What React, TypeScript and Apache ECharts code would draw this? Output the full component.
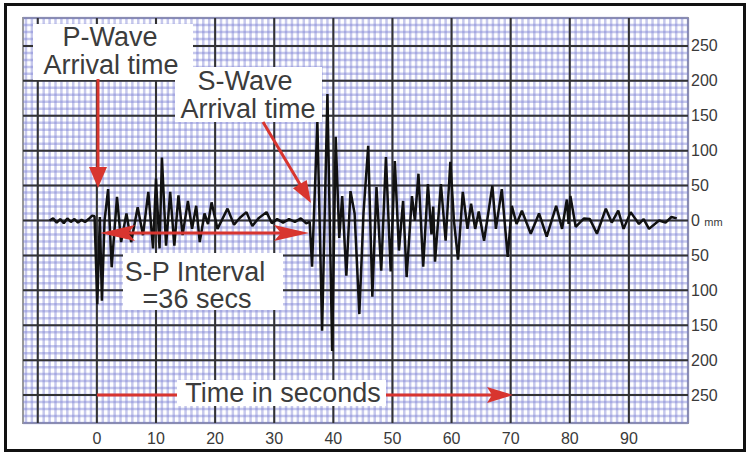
import React, { useEffect, useRef } from "react";
import * as echarts from "echarts";

// Seismogram trace: time in seconds and amplitude in mm
const TIME = [
  -8.0, -7.4, -6.8, -6.2, -5.6, -5.0, -4.4, -3.8, -3.2, -2.6, -2.0, -1.4, -0.8, -0.4,
  0.07, 0.5, 0.85, 1.3, 1.9, 2.5, 3.4, 4.1, 5.0, 5.8, 6.9, 7.8, 8.7, 9.5, 10.0, 10.6,
  11.0, 11.7, 12.4, 13.1, 13.8, 14.5, 15.4, 16.1, 16.8, 17.4, 18.2, 18.8, 19.4, 20.4,
  22.1, 23.2, 24.2, 25.3, 26.3, 27.3, 28.7, 29.6, 30.5, 31.5, 32.5, 33.5, 34.5, 35.4, 36.0,
  36.4, 37.3, 38.1, 39.0, 39.8, 40.4, 41.0, 41.5, 42.2, 42.9, 43.6, 44.4, 45.1, 45.9,
  46.6, 47.3, 48.1, 48.9, 49.7, 50.4, 51.1, 51.8, 52.4, 53.3, 53.8, 54.4, 55.2, 56.0,
  56.6, 56.9, 57.2, 58.2, 59.0, 59.8, 60.4, 61.1, 61.9, 62.7, 63.3, 64.0, 64.6, 65.5,
  66.2, 66.9, 67.5, 68.5, 69.5, 70.2, 71.0, 71.9, 73.4, 74.8, 76.1, 77.7, 78.7, 79.5,
  79.8, 80.1, 81.0, 82.4, 83.4, 84.6, 86.1, 87.1, 88.2, 89.1, 90.3, 91.7, 92.5, 93.4,
  95.1, 96.2, 97.2, 98.1,
];
const AMP = [
  0, 3, -3, 2, -4, 3, -2, 2, -3, 1, -2, 2, 7, 6,
  -120, 5, -115, 0, 45, -67, 34, -31, 10, -31, 19, -21, 41, -40, 60, -40,
  90, -36, 41, -36, 36, -21, 28, -12, 21, -31, 10, -5, 26, -12,
  17, -6, 4, 12, -8, 3, 12, -4, 2, -3, 2, -2, 3, -4, -2,
  -66, 141, -158, 181, -187, 120, -25, 35, -79, 42, 10, -134, 10, 107,
  -109, 48, -72, 91, -73, 85, -43, 28, -81, 35, 0, 67, -66, 52,
  -20, 20, -59, 52, -29, 84, 0, -56, 41, -12, 24, -12, 13, -29,
  10, 50, -12, 45, -52, 21, -5, 14, -19, 10, -23, 21, -12, 30,
  -5, 35, -9, 3, 2, -19, 17, -3, 14, -12, 12, -5, 2, -12,
  0, -3, 5, 3,
];

const X_LABELS = [0, 10, 20, 30, 40, 50, 60, 70, 80, 90];
const Y_LABELS = [-250, -200, -150, -100, -50, 0, 50, 100, 150, 200, 250];
const X_MAJOR = [-10, 0, 10, 20, 30, 40, 50, 60, 70, 80, 90];
const Y_MAJOR = [-250, -200, -150, -100, -50, 0, 50, 100, 150, 200, 250];

const X_MIN = -12.5;
const X_MAX = 100;
const Y_MIN = -290;
const Y_MAX = 290;

const RED = "#d8352f";
const FONT = "'Liberation Sans', Arial, sans-serif";
const MINOR = "rgba(118,124,210,0.42)";

function range(a: number, b: number, step: number) {
  const out: number[] = [];
  for (let v = a; v <= b + 1e-9; v += step) out.push(v);
  return out;
}

export default function App() {
  const ref = useRef<HTMLDivElement>(null);

  useEffect(() => {
    if (!ref.current) return;
    const chart = echarts.init(ref.current, null, { renderer: "svg" });
    const xMinor = range(-12, 100, 1);
    const yMinor = range(-290, 290, 10);

    const textStyle = (text: string, x: number, y: number) => ({
      type: "text",
      x,
      y,
      z: 20,
      style: {
        text,
        fill: "#3c3c3c",
        font: `27px ${FONT}`,
        textAlign: "center",
        textVerticalAlign: "middle",
      },
    });
    const box = (x: number, y: number, w: number, h: number) => ({
      type: "rect",
      z: 15,
      shape: { x, y, width: w, height: h },
      style: { fill: "#ffffff" },
    });
    const redLine = (x1: number, y1: number, x2: number, y2: number) => ({
      type: "line",
      z: 18,
      shape: { x1, y1, x2, y2 },
      style: { stroke: RED, lineWidth: 3 },
    });
    const head = (pts: number[][]) => ({
      type: "polygon",
      z: 18,
      shape: { points: pts },
      style: { fill: RED },
    });

    chart.setOption({
      animation: false,
      backgroundColor: "#ffffff",
      grid: {
        left: 23,
        top: 18,
        right: 61,
        bottom: 33,
        show: true,
        backgroundColor: "#ffffff",
        borderColor: "#9a9a9a",
        borderWidth: 2,
      },
      xAxis: {
        type: "value",
        min: X_MIN,
        max: X_MAX,
        splitLine: { show: false },
        axisLine: { show: false },
        axisTick: { show: false },
        axisLabel: {
          customValues: X_LABELS,
          color: "#3a3a3a",
          fontSize: 16,
          fontFamily: FONT,
          margin: 7,
        },
      },
      yAxis: {
        type: "value",
        position: "right",
        min: Y_MIN,
        max: Y_MAX,
        splitLine: { show: false },
        axisLine: { show: false },
        axisTick: { show: false },
        axisLabel: {
          customValues: Y_LABELS,
          color: "#3a3a3a",
          fontSize: 16,
          fontFamily: FONT,
          margin: 3,
          formatter: (v: number) => (v === 0 ? "{a|0} {b|mm}" : String(Math.abs(v))),
          rich: {
            a: { fontSize: 16, fontFamily: FONT, color: "#3a3a3a" },
            b: { fontSize: 11, fontFamily: FONT, color: "#3a3a3a", padding: [3, 0, 0, 0] },
          },
        },
      },
      series: [
        {
          type: "custom",
          silent: true,
          z: 1,
          data: [[0, 0]],
          renderItem: (params: any, api: any) => {
            const tl = api.coord([X_MIN, Y_MAX]);
            const br = api.coord([X_MAX, Y_MIN]);
            const children: any[] = [];
            xMinor.forEach((v) => {
              const p = api.coord([v, 0]);
              children.push({
                type: "line",
                shape: { x1: p[0], y1: tl[1], x2: p[0], y2: br[1] },
                style: { stroke: MINOR, lineWidth: 2.5 },
              });
            });
            yMinor.forEach((v) => {
              const p = api.coord([0, v]);
              children.push({
                type: "line",
                shape: { x1: tl[0], y1: p[1], x2: br[0], y2: p[1] },
                style: { stroke: MINOR, lineWidth: 2.5 },
              });
            });
            X_MAJOR.forEach((v) => {
              const p = api.coord([v, 0]);
              children.push({
                type: "line",
                shape: { x1: p[0], y1: tl[1], x2: p[0], y2: br[1] },
                style: { stroke: "#333333", lineWidth: 2 },
              });
            });
            Y_MAJOR.forEach((v) => {
              const p = api.coord([0, v]);
              children.push({
                type: "line",
                shape: { x1: tl[0], y1: p[1], x2: br[0], y2: p[1] },
                style: { stroke: "#333333", lineWidth: 2 },
              });
            });
            return { type: "group", children };
          },
        },
        {
          type: "line",
          z: 5,
          data: TIME.map((t, i) => [t, AMP[i]]),
          showSymbol: false,
          silent: true,
          lineStyle: { color: "#111111", width: 2.5 },
        },
      ],
      graphic: [
        {
          type: "rect",
          z: 30,
          shape: { x: 5.5, y: 4.5, width: 739, height: 446 },
          style: { fill: "none", stroke: "#111111", lineWidth: 3 },
        },
        box(33, 24, 160, 56),
        textStyle("P-Wave", 110, 37),
        textStyle("Arrival time", 111, 65),
        box(175, 67, 147, 55),
        textStyle("S-Wave", 245, 81),
        textStyle("Arrival time", 248, 109),
        box(123, 253, 160, 57),
        textStyle("S-P Interval", 195, 272),
        textStyle("=36 secs", 197, 299),
        box(177, 380, 209, 26),
        textStyle("Time in seconds", 283, 393),
        // P arrow
        redLine(98, 79, 98, 170),
        head([[89, 167], [107, 167], [98, 188]]),
        // S arrow
        redLine(263, 122, 301, 186),
        head([[311, 203], [292.9, 188.2], [306.7, 180.0]]),
        // S-P double arrow
        redLine(125, 233, 284, 233),
        head([[100, 233], [135, 225], [128, 233], [135, 241]]),
        head([[309, 233], [274, 225], [281, 233], [274, 241]]),
        // Time arrow
        redLine(97, 395, 177, 395),
        redLine(386, 395, 495, 395),
        head([[513, 395], [487, 387], [492, 395], [487, 403]]),
      ],
    });
    return () => chart.dispose();
  }, []);

  return (
    <div
      ref={ref}
      style={{ position: "fixed", left: 0, top: 0, width: 749, height: 456 }}
    />
  );
}
